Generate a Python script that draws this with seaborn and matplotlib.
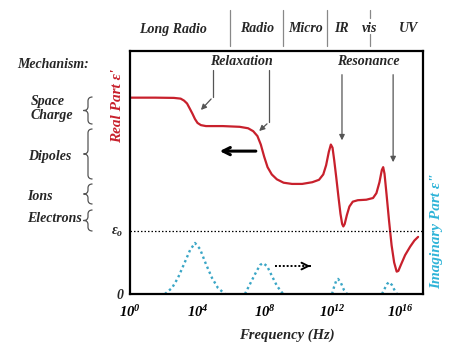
import numpy as np
import pandas as pd
import matplotlib
matplotlib.use('Agg')
import matplotlib.pyplot as plt
from matplotlib.path import Path
from matplotlib.patches import PathPatch
import seaborn as sns

# --- data (log10 of frequency, arbitrary permittivity units) ---
real_logf = [0.0, 1.5, 2.6, 3.0, 3.2, 3.38, 3.55, 3.7, 3.85, 4.0,
             4.2, 4.5, 5.5, 6.5, 7.0, 7.3, 7.55, 7.75, 7.95, 8.15,
             8.4, 8.7, 9.1, 9.6, 10.2, 10.8, 11.2, 11.45, 11.62, 11.78,
             11.9, 12.0, 12.1, 12.22, 12.35, 12.47, 12.57, 12.64, 12.72, 12.85,
             13.0, 13.2, 13.5, 14.0, 14.4, 14.6, 14.78, 14.92, 15.0, 15.08,
             15.2, 15.35, 15.5, 15.65, 15.8, 15.9, 16.05, 16.3, 16.6, 16.85,
             17.07]
real_eps = [8.08, 8.08, 8.07, 8.04, 7.96, 7.84, 7.62, 7.42, 7.20, 7.04,
            6.95, 6.91, 6.91, 6.88, 6.82, 6.70, 6.50, 6.15, 5.65, 5.22,
            4.92, 4.72, 4.58, 4.53, 4.53, 4.60, 4.70, 4.92, 5.30, 5.85,
            6.15, 6.02, 5.50, 4.80, 4.00, 3.30, 2.88, 2.78, 2.88, 3.25,
            3.60, 3.80, 3.86, 3.88, 3.95, 4.15, 4.60, 5.10, 5.22, 4.95,
            4.10, 3.00, 2.00, 1.30, 0.92, 0.95, 1.20, 1.60, 1.95, 2.20,
            2.35]

imag_space_logf = [2.07, 2.49, 2.84, 3.20, 3.56, 3.85, 4.15, 4.50, 4.86, 5.21, 5.63]
imag_space_eps = [0.0, 0.25, 0.66, 1.23, 1.81, 2.10, 1.85, 1.23, 0.66, 0.25, 0.0]
imag_dipole_logf = [6.81, 7.11, 7.41, 7.70, 7.88, 8.12, 8.41, 8.71, 9.07]
imag_dipole_eps = [0.0, 0.41, 0.82, 1.19, 1.27, 1.15, 0.74, 0.33, 0.0]
imag_ion_logf = [11.97, 12.09, 12.21, 12.33, 12.50, 12.68, 12.86]
imag_ion_eps = [0.0, 0.29, 0.53, 0.62, 0.45, 0.16, 0.0]
imag_elec_logf = [14.93, 15.11, 15.23, 15.35, 15.52, 15.70, 15.82]
imag_elec_eps = [0.0, 0.25, 0.41, 0.49, 0.37, 0.12, 0.0]

eps0 = 2.6
tick_exp = [0, 4, 8, 12, 16]
bands = ['Long Radio', 'Radio', 'Micro', 'IR', 'vis', 'UV']
mechanisms = ['Space\nCharge', 'Dipoles', 'Ions', 'Electrons']

RED = '#c8202c'
CYAN = '#2fb4d8'
BLUE_DOT = '#3aa6c6'

df_real = pd.DataFrame({'freq': 10.0 ** np.array(real_logf), 'eps': real_eps})
peaks = [('space', imag_space_logf, imag_space_eps),
         ('dipole', imag_dipole_logf, imag_dipole_eps),
         ('ion', imag_ion_logf, imag_ion_eps),
         ('elec', imag_elec_logf, imag_elec_eps)]
df_imag = pd.concat([pd.DataFrame({'peak': n, 'freq': 10.0 ** np.array(lf), 'eps': e})
                     for n, lf, e in peaks], ignore_index=True)

# --- style ---
sns.set_style('white')
plt.rcParams['font.family'] = ['Liberation Serif', 'DejaVu Serif']
plt.rcParams['font.weight'] = 'bold'
plt.rcParams['font.style'] = 'italic'
plt.rcParams['axes.labelweight'] = 'bold'
plt.rcParams['mathtext.fontset'] = 'custom'
plt.rcParams['mathtext.rm'] = 'Liberation Serif:bold:italic'
plt.rcParams['mathtext.it'] = 'Liberation Serif:bold:italic'
plt.rcParams['mathtext.bf'] = 'Liberation Serif:bold:italic'

W, H = 474, 355
fig = plt.figure(figsize=(W / 100, H / 100), dpi=100)
ax = fig.add_axes([130 / W, 1 - 294 / H, 293 / W, 243 / H])

sns.lineplot(data=df_real, x='freq', y='eps', color=RED, linewidth=1.6, ax=ax, sort=False)
sns.lineplot(data=df_imag, x='freq', y='eps', units='peak', estimator=None, sort=False,
             color=BLUE_DOT, linewidth=1.7, dashes=False, ax=ax, legend=False)
for ln in ax.lines[1:]:
    ln.set_linestyle((0, (1.0, 1.3)))
ax.axhline(eps0, color='black', linestyle=(0, (1.2, 1.6)), linewidth=0.9)

ax.set_xscale('log')
ax.set_xlim(1, 10 ** 17.36)
ax.set_ylim(0, 10)
ax.set_xticks([10.0 ** e for e in tick_exp])
ax.set_xticklabels(['$10^{%d}$' % e for e in tick_exp], fontsize=10.5)
ax.xaxis.set_minor_locator(matplotlib.ticker.NullLocator())
ax.tick_params(axis='x', direction='in', length=5, width=1.5, pad=7, colors='black')
ax.set_yticks([0, eps0])
ax.set_yticklabels(['0', r'$\varepsilon_o$'], fontsize=10)
ax.tick_params(axis='y', length=0, pad=5)
for s in ax.spines.values():
    s.set_color('black')
    s.set_linewidth(1.6)

ax.set_xlabel('Frequency (Hz)', fontsize=10.5)
ax.xaxis.set_label_coords(0.535, -0.14)
ax.set_ylabel('')

ax.text(-0.041, 0.774, "Real Part ε'", transform=ax.transAxes, rotation=90,
        ha='center', va='center', color=RED, fontsize=11)
ax.text(1.048, 0.259, 'Imaginary Part ε"', transform=ax.transAxes, rotation=90,
        ha='center', va='center', color=CYAN, fontsize=11)


# annotations (data coords: log10 f, eps)
def F(lf):
    return 10.0 ** lf


ax.text(F(6.58), 9.55, 'Relaxation', ha='center', va='center', fontsize=10)
ax.text(F(14.1), 9.55, 'Resonance', ha='center', va='center', fontsize=10)
gray = '#555555'
ax.plot([F(4.92), F(4.92)], [9.22, 8.11], color=gray, lw=0.9)
ax.annotate('', xy=(F(4.09), 7.49), xytext=(F(4.92), 8.11),
            arrowprops=dict(arrowstyle='-|>', color=gray, lw=0.9, mutation_scale=8))
ax.plot([F(8.24), F(8.24)], [9.22, 7.08], color=gray, lw=0.9)
ax.annotate('', xy=(F(7.53), 6.63), xytext=(F(8.24), 7.08),
            arrowprops=dict(arrowstyle='-|>', color=gray, lw=0.9, mutation_scale=8))
ax.annotate('', xy=(F(12.56), 6.21), xytext=(F(12.56), 9.14),
            arrowprops=dict(arrowstyle='-|>', color=gray, lw=0.9, mutation_scale=8))
ax.annotate('', xy=(F(15.59), 5.31), xytext=(F(15.59), 9.14),
            arrowprops=dict(arrowstyle='-|>', color=gray, lw=0.9, mutation_scale=8))

ax.annotate('', xy=(F(5.15), 5.88), xytext=(F(7.62), 5.88),
            arrowprops=dict(arrowstyle='->', color='black', lw=2.2, mutation_scale=13))
ax.plot([F(8.59), F(10.7)], [1.15, 1.15], color='black', lw=1.4, linestyle=(0, (1.0, 1.0)))
ax.annotate('', xy=(F(10.85), 1.15), xytext=(F(10.45), 1.15),
            arrowprops=dict(arrowstyle='->', color='black', lw=1.4, mutation_scale=12))

# --- figure-level text (pixel positions) ---
def ft(x, y, s, **kw):
    fig.text(x / W, 1 - y / H, s, **kw)


band_x = [173, 257, 306, 341, 370, 409]
for b, bx in zip(bands, band_x):
    ft(bx, 29, b, ha='center', va='center', fontsize=10)
for sx in [230, 283, 327]:
    fig.add_artist(plt.Line2D([sx / W] * 2, [1 - 10 / H, 1 - 46 / H], color='#888888', lw=0.9))
fig.add_artist(plt.Line2D([370 / W] * 2, [1 - 10 / H, 1 - 18 / H], color='#888888', lw=0.9))
fig.add_artist(plt.Line2D([370 / W] * 2, [1 - 34 / H, 1 - 46 / H], color='#888888', lw=0.9))

ft(17, 65, 'Mechanism:', ha='left', va='center', fontsize=10)
mech_pos = [(31, 108), (28, 156), (27, 197), (27, 219)]
for m, (mx, my) in zip(mechanisms, mech_pos):
    ft(mx, my, m, ha='left', va='center', fontsize=10, linespacing=1.1)


def brace(x, y0, y1):
    w, r = 4.5, 4.0
    ym = (y0 + y1) / 2
    pts = [(x + w, y0), (x, y0), (x, y0 + r), (x, ym - r), (x, ym), (x - w, ym),
           (x, ym), (x, ym + r), (x, y1 - r), (x, y1), (x + w, y1)]
    codes = [Path.MOVETO, Path.CURVE3, Path.CURVE3, Path.LINETO, Path.CURVE3, Path.CURVE3,
             Path.CURVE3, Path.CURVE3, Path.LINETO, Path.CURVE3, Path.CURVE3]
    verts = [(px / W, 1 - py / H) for px, py in pts]
    fig.add_artist(PathPatch(Path(verts, codes), transform=fig.transFigure,
                             facecolor='none', edgecolor='#555555', lw=0.9))


for y0, y1 in [(97, 124), (129, 179), (184, 204), (210, 231)]:
    brace(88, y0, y1)

fig.savefig('out.png', dpi=100)
